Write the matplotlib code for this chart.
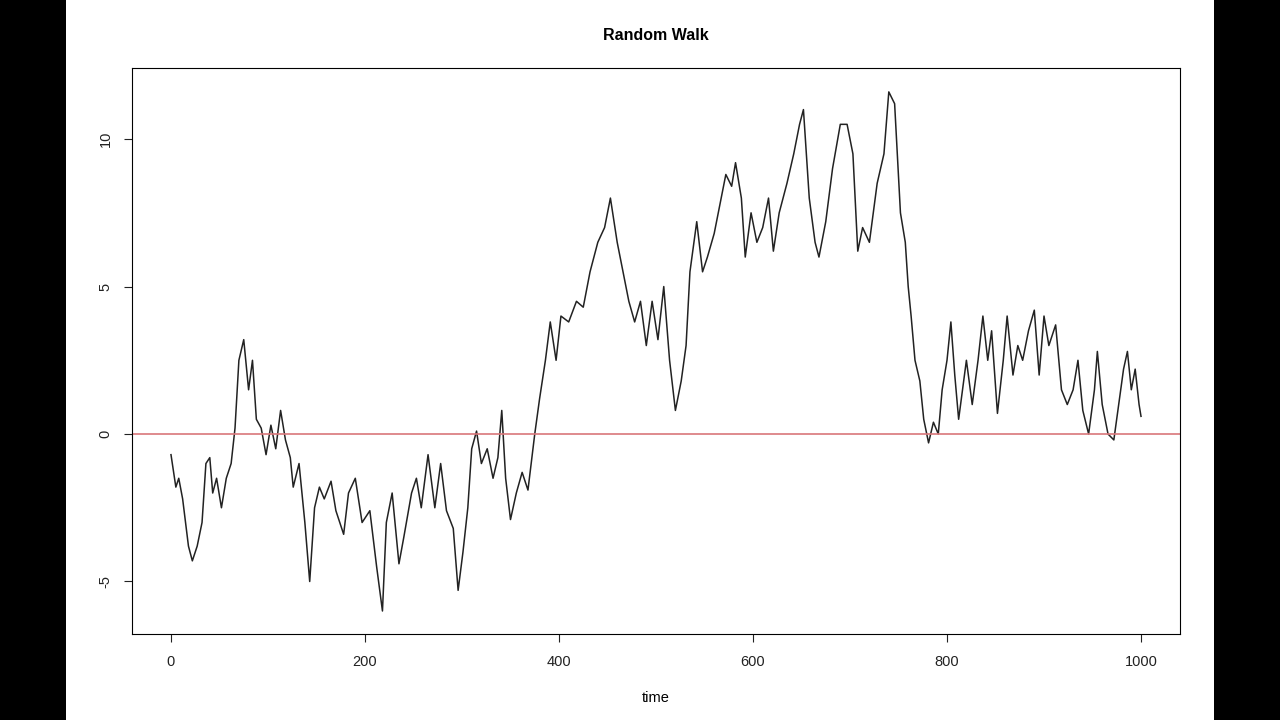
import matplotlib
matplotlib.use("Agg")
import matplotlib.pyplot as plt
from matplotlib.patches import Rectangle

plt.rcParams['font.family'] = ['Liberation Sans', 'DejaVu Sans']

t = [0,5,8,12,18,22,27,32,36,40,43,47,52,57,62,66,70,75,80,84,88,93,98,103,108,113,118,123,126,132,138,143,148,153,158,165,170,178,183,190,197,205,212,218,222,228,235,240,248,253,258,265,272,278,284,291,296,301,306,310,315,320,326,332,337,341,345,350,356,362,368,375,380,386,391,397,402,410,418,425,432,440,447,453,460,466,472,478,484,490,496,502,508,514,520,526,531,535,542,548,553,560,566,572,578,582,588,592,598,604,610,616,621,627,635,642,648,652,658,664,668,675,682,690,697,703,708,713,720,728,735,740,746,752,757,760,763,767,772,776,781,786,791,795,800,804,808,812,816,820,826,832,837,842,846,852,858,862,868,873,878,884,890,895,900,905,912,918,924,930,935,940,946,952,955,960,966,972,977,982,986,990,994,998,1000]
walk = [-0.7,-1.8,-1.5,-2.2,-3.8,-4.3,-3.8,-3.0,-1.0,-0.8,-2.0,-1.5,-2.5,-1.5,-1.0,0.2,2.5,3.2,1.5,2.5,0.5,0.2,-0.7,0.3,-0.5,0.8,-0.2,-0.8,-1.8,-1.0,-3.0,-5.0,-2.5,-1.8,-2.2,-1.6,-2.6,-3.4,-2.0,-1.5,-3.0,-2.6,-4.5,-6.0,-3.0,-2.0,-4.4,-3.5,-2.0,-1.5,-2.5,-0.7,-2.5,-1.0,-2.6,-3.2,-5.3,-4.0,-2.5,-0.5,0.1,-1.0,-0.5,-1.5,-0.8,0.8,-1.5,-2.9,-2.0,-1.3,-1.9,0.0,1.2,2.5,3.8,2.5,4.0,3.8,4.5,4.3,5.5,6.5,7.0,8.0,6.5,5.5,4.5,3.8,4.5,3.0,4.5,3.2,5.0,2.5,0.8,1.8,3.0,5.5,7.2,5.5,6.0,6.8,7.8,8.8,8.4,9.2,8.0,6.0,7.5,6.5,7.0,8.0,6.2,7.5,8.5,9.5,10.5,11.0,8.0,6.5,6.0,7.2,9.0,10.5,10.5,9.5,6.2,7.0,6.5,8.5,9.5,11.6,11.2,7.5,6.5,5.0,4.0,2.5,1.8,0.5,-0.3,0.4,0.0,1.5,2.5,3.8,2.0,0.5,1.5,2.5,1.0,2.5,4.0,2.5,3.5,0.7,2.5,4.0,2.0,3.0,2.5,3.5,4.2,2.0,4.0,3.0,3.7,1.5,1.0,1.5,2.5,0.8,0.0,1.5,2.8,1.0,0.0,-0.2,1.0,2.2,2.8,1.5,2.2,1.0,0.6]
xticks = [0, 200, 400, 600, 800, 1000]
yticks = [-5, 0, 5, 10]

fig = plt.figure(figsize=(12.8, 7.2), dpi=100, facecolor="black")
fig.patches.append(Rectangle((66/1280, 0), (1214-66)/1280, 1, transform=fig.transFigure,
                             facecolor="white", edgecolor="none", zorder=-10))
ax = fig.add_axes([132/1280, 86/720, 1048/1280, 566/720])
ax.plot(t, walk, color="#222222", lw=1.1)
ax.axhline(0, color="#d9777a", lw=1.2)
ax.set_xlim(-40.2, 1040.2)
ax.set_ylim(-6.78, 12.41)
ax.set_xticks(xticks)
ax.set_yticks(yticks)
ax.set_yticklabels([str(v) for v in yticks], rotation=90, va="center")
ax.tick_params(labelsize=10.5, length=6, colors="#222222")
ax.tick_params(axis="x", pad=9)
ax.tick_params(axis="y", pad=8)
ax.set_xlabel("time", fontsize=10.5, labelpad=16)
fig.text(656/1280, 1-35/720, "Random Walk", ha="center", va="center", fontsize=11.5, fontweight="bold")
fig.savefig("out.png", dpi=100, facecolor=fig.get_facecolor())
